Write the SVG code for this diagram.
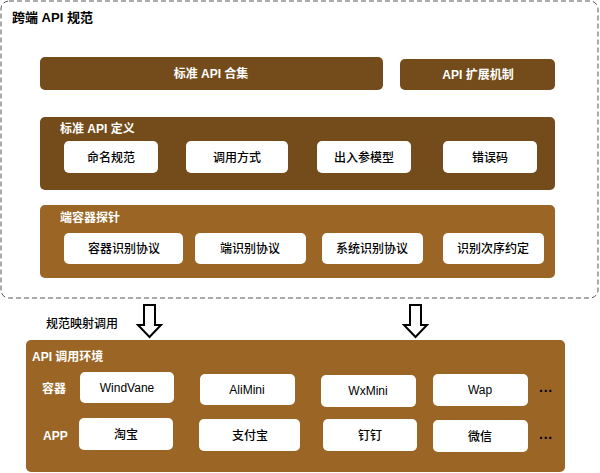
<svg xmlns="http://www.w3.org/2000/svg" width="600" height="473" viewBox="0 0 600 473">
<style>
text{font-family:"Liberation Sans","Noto Sans CJK SC",sans-serif;}
.dk{fill:#744b1a;}
.lt{fill:#9b6525;}
.wb{fill:#ffffff;}
.wt{fill:#ffffff;font-size:12px;font-weight:bold;}
.bt{fill:#000000;font-size:12px;font-weight:500;text-anchor:middle;}
.hd{fill:#ffffff;font-size:12px;font-weight:bold;text-anchor:middle;}
.arr{fill:#ffffff;stroke:#000000;stroke-width:2;}
.dots{fill:#000;font-size:14px;font-weight:bold;font-family:"Liberation Sans",sans-serif;}
</style>
<rect x="1" y="1" width="597" height="297" rx="8" fill="none" stroke="#555" stroke-width="1" stroke-dasharray="5,3"/>
<text x="12" y="22" style="font-size:13px;font-weight:bold;fill:#000">跨端 API 规范</text>

<g id="api-set"><rect class="dk" x="40" y="57" width="343" height="33" rx="5"/><text class="hd" x="211" y="78">标准 API 合集</text></g>
<g id="api-ext"><rect class="dk" x="400" y="59" width="155" height="31" rx="5"/><text class="hd" x="478" y="79">API 扩展机制</text></g>

<g id="api-def"><rect class="dk" x="40" y="117" width="515" height="73" rx="5"/><text class="wt" x="60" y="133">标准 API 定义</text></g>
<g id="naming"><rect class="wb" x="64" y="141" width="94" height="32" rx="5"/><text class="bt" x="111" y="162">命名规范</text></g>
<g id="call-mode"><rect class="wb" x="186" y="141" width="102" height="32" rx="5"/><text class="bt" x="237" y="162">调用方式</text></g>
<g id="io-model"><rect class="wb" x="317" y="141" width="94" height="32" rx="5"/><text class="bt" x="364" y="162">出入参模型</text></g>
<g id="error-code"><rect class="wb" x="443" y="141" width="94" height="32" rx="5"/><text class="bt" x="490" y="162">错误码</text></g>

<g id="probe"><rect class="lt" x="40" y="205" width="515" height="73" rx="5"/><text class="wt" x="60" y="222">端容器探针</text></g>
<g id="container-id"><rect class="wb" x="64" y="233" width="119" height="31" rx="5"/><text class="bt" x="124" y="253">容器识别协议</text></g>
<g id="end-id"><rect class="wb" x="195" y="233" width="111" height="31" rx="5"/><text class="bt" x="250" y="253">端识别协议</text></g>
<g id="sys-id"><rect class="wb" x="322" y="233" width="101" height="31" rx="5"/><text class="bt" x="372" y="253">系统识别协议</text></g>
<g id="order"><rect class="wb" x="443" y="233" width="101" height="31" rx="5"/><text class="bt" x="493" y="253">识别次序约定</text></g>

<g id="connectors">
<path class="arr" d="M144,305 H155 V325 H161 L149.5,337 L138,325 H144 Z"/>
<path class="arr" d="M410,305 H421 V325 H427 L415.5,337 L404,325 H410 Z"/>
</g>
<text x="46" y="328" style="font-size:12px;font-weight:500;fill:#000">规范映射调用</text>

<g id="env"><rect class="lt" x="26" y="340" width="539" height="132" rx="5"/><text class="wt" x="32" y="361">API 调用环境</text>
<text class="wt" x="42" y="393">容器</text><text class="wt" x="43" y="440">APP</text>
<text class="dots" x="539" y="396">···</text>
<text class="dots" x="539" y="443">···</text>
</g>
<g id="windvane"><rect class="wb" x="80" y="372" width="94" height="31" rx="5"/><text class="bt" x="127" y="392">WindVane</text></g>
<g id="alimini"><rect class="wb" x="200" y="374" width="95" height="31" rx="5"/><text class="bt" x="247" y="394">AliMini</text></g>
<g id="wxmini"><rect class="wb" x="321" y="375" width="95" height="32" rx="5"/><text class="bt" x="368" y="395">WxMini</text></g>
<g id="wap"><rect class="wb" x="433" y="374" width="95" height="32" rx="5"/><text class="bt" x="480" y="394">Wap</text></g>
<g id="taobao"><rect class="wb" x="79" y="418" width="94" height="32" rx="5"/><text class="bt" x="126" y="439">淘宝</text></g>
<g id="alipay"><rect class="wb" x="199" y="419" width="101" height="32" rx="5"/><text class="bt" x="250" y="440">支付宝</text></g>
<g id="dingtalk"><rect class="wb" x="323" y="419" width="94" height="32" rx="5"/><text class="bt" x="370" y="440">钉钉</text></g>
<g id="wechat"><rect class="wb" x="433" y="420" width="95" height="32" rx="5"/><text class="bt" x="480" y="441">微信</text></g>
</svg>
